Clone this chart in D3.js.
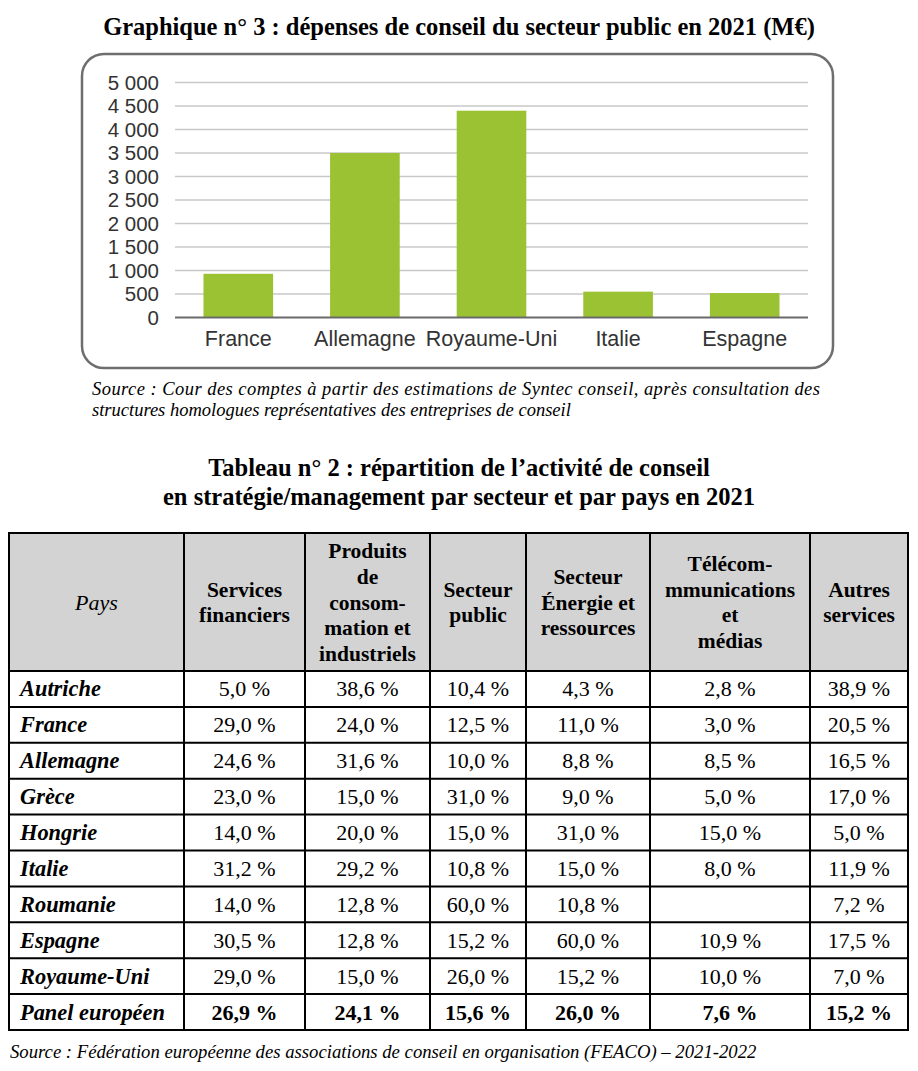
<!DOCTYPE html>
<html lang="fr">
<head>
<meta charset="UTF-8">
<title>Dépenses de conseil</title>
<style>
  body { margin: 0; background: #fff; }
  svg text { font-family: "Liberation Serif", "Times New Roman", serif; }
</style>
</head>
<body>
<script src="https://cdn.jsdelivr.net/npm/d3@7/dist/d3.min.js"></script>
<script>
// graphique n° 3
const pays = ['France', 'Allemagne', 'Royaume-Uni', 'Italie', 'Espagne'];
const depenses = [930, 3500, 4400, 550, 520];
const yTicks = [0, 500, 1000, 1500, 2000, 2500, 3000, 3500, 4000, 4500, 5000];

// tableau n° 2
const entetes = [
  ['Pays'],
  ['Services', 'financiers'],
  ['Produits', 'de', 'consom-', 'mation et', 'industriels'],
  ['Secteur', 'public'],
  ['Secteur', 'Énergie et', 'ressources'],
  ['Télécom-', 'mmunications', 'et', 'médias'],
  ['Autres', 'services']
];
const lignes = ['Autriche', 'France', 'Allemagne', 'Grèce', 'Hongrie', 'Italie',
  'Roumanie', 'Espagne', 'Royaume-Uni', 'Panel européen'];
const servFinanciers = [5.0, 29.0, 24.6, 23.0, 14.0, 31.2, 14.0, 30.5, 29.0, 26.9];
const produitsConso  = [38.6, 24.0, 31.6, 15.0, 20.0, 29.2, 12.8, 12.8, 15.0, 24.1];
const secteurPublic  = [10.4, 12.5, 10.0, 31.0, 15.0, 10.8, 60.0, 15.2, 26.0, 15.6];
const energie        = [4.3, 11.0, 8.8, 9.0, 31.0, 15.0, 10.8, 60.0, 15.2, 26.0];
const telecoms       = [2.8, 3.0, 8.5, 5.0, 15.0, 8.0, null, 10.9, 10.0, 7.6];
const autres         = [38.9, 20.5, 16.5, 17.0, 5.0, 11.9, 7.2, 17.5, 7.0, 15.2];
const colonnes = [servFinanciers, produitsConso, secteurPublic, energie, telecoms, autres];

const fr = d3.formatLocale({decimal: ',', thousands: '\u00a0', grouping: [3], currency: ['', '€']});
const fmtMil = fr.format(',');
const fmtPct = v => v == null ? '' : fr.format('.1f')(v) + '\u00a0%';

const W = 918, H = 1071;
const svg = d3.select('body').append('svg').attr('width', W).attr('height', H);

// titre
svg.append('text')
  .attr('x', 459).attr('y', 35)
  .attr('text-anchor', 'middle')
  .attr('font-weight', 'bold').attr('font-size', 24.5)
  .text('Graphique n° 3 : dépenses de conseil du secteur public en 2021 (M€)');

// cadre
svg.append('rect')
  .attr('x', 82).attr('y', 54).attr('width', 751).attr('height', 314)
  .attr('rx', 22)
  .attr('fill', '#fff').attr('stroke', '#6e6e6e').attr('stroke-width', 2.5);

const x = d3.scaleBand().domain(pays).range([175, 808]).paddingInner(0.45).paddingOuter(0.225);
const y = d3.scaleLinear().domain([0, 5000]).range([317.5, 82.5]);

const chart = svg.append('g');

// grille
chart.selectAll('line.grid').data(yTicks.filter(d => d > 0)).enter().append('line')
  .attr('class', 'grid')
  .attr('x1', 175).attr('x2', 808)
  .attr('y1', d => y(d)).attr('y2', d => y(d))
  .attr('stroke', '#c8c8c8').attr('stroke-width', 1.5);

// barres
chart.selectAll('rect.bar').data(depenses).enter().append('rect')
  .attr('class', 'bar')
  .attr('x', (d, i) => x(pays[i]))
  .attr('width', x.bandwidth())
  .attr('y', d => y(d))
  .attr('height', d => y(0) - y(d))
  .attr('fill', '#9bc232');

// axe
chart.append('line')
  .attr('x1', 175).attr('x2', 808)
  .attr('y1', y(0)).attr('y2', y(0))
  .attr('stroke', '#6a6a6a').attr('stroke-width', 2);

const yAxis = d3.axisLeft(y).tickValues(yTicks).tickFormat(fmtMil).tickSize(0).tickPadding(0);
chart.append('g').attr('transform', 'translate(159,0)').call(yAxis)
  .call(g => g.select('.domain').remove())
  .call(g => g.selectAll('text')
    .style('font-family', '"Liberation Sans", Arial, sans-serif')
    .attr('font-size', 20.5).attr('fill', '#333'));

const xAxis = d3.axisBottom(x).tickSize(0).tickPadding(13);
chart.append('g').attr('transform', `translate(0,${y(0)})`).call(xAxis)
  .call(g => g.select('.domain').remove())
  .call(g => g.selectAll('text')
    .style('font-family', '"Liberation Sans", Arial, sans-serif')
    .attr('font-size', 21.5).attr('fill', '#333'));

// source 1
svg.append('text')
  .attr('x', 92).attr('y', 395)
  .attr('font-style', 'italic').attr('font-size', 18.5)
  .attr('textLength', 728).attr('lengthAdjust', 'spacing')
  .text('Source : Cour des comptes à partir des estimations de Syntec conseil, après consultation des');
svg.append('text')
  .attr('x', 92).attr('y', 416)
  .attr('font-style', 'italic').attr('font-size', 18.5)
  .text('structures homologues représentatives des entreprises de conseil');

// titre tableau
['Tableau n° 2 : répartition de l’activité de conseil',
 'en stratégie/management par secteur et par pays en 2021'].forEach((t, i) => {
  svg.append('text')
    .attr('x', 459).attr('y', 476 + i * 29)
    .attr('text-anchor', 'middle')
    .attr('font-weight', 'bold').attr('font-size', 24.5)
    .text(t);
});

// tableau
const colX = [9, 184, 305, 430, 526, 650, 810, 908];
const tabTop = 533, headBottom = 671, tabBottom = 1030;
const row = d3.scaleBand().domain(lignes).range([headBottom, tabBottom]);
const tab = svg.append('g');

tab.append('rect')
  .attr('x', colX[0]).attr('y', tabTop)
  .attr('width', colX[7] - colX[0]).attr('height', headBottom - tabTop)
  .attr('fill', '#d3d3d3');

// en-têtes
entetes.forEach((lines, c) => {
  const cx = (colX[c] + colX[c + 1]) / 2;
  const lh = 25.7;
  const y0 = (tabTop + headBottom) / 2 - (lines.length - 1) * lh / 2 + 7.5;
  lines.forEach((t, k) => {
    tab.append('text')
      .attr('x', cx).attr('y', y0 + k * lh)
      .attr('text-anchor', 'middle')
      .attr('font-size', c === 0 ? 22 : 21.5)
      .attr('font-weight', c === 0 ? 'normal' : 'bold')
      .attr('font-style', c === 0 ? 'italic' : 'normal')
      .text(t);
  });
});

// lignes
lignes.forEach((p, r) => {
  const last = r === lignes.length - 1;
  const cy = row(p) + row.bandwidth() / 2 + 7.5;
  tab.append('text')
    .attr('x', 20).attr('y', cy)
    .attr('font-size', 22.4).attr('font-weight', 'bold').attr('font-style', 'italic')
    .text(p);
  colonnes.forEach((col, c) => {
    tab.append('text')
      .attr('x', (colX[c + 1] + colX[c + 2]) / 2).attr('y', cy)
      .attr('text-anchor', 'middle')
      .attr('font-size', 22)
      .attr('font-weight', last ? 'bold' : 'normal')
      .text(fmtPct(col[r]));
  });
});

// filets
const lineStyle = s => s.attr('stroke', '#000').attr('stroke-width', 2);
colX.forEach(cx => {
  tab.append('line').attr('x1', cx).attr('x2', cx).attr('y1', tabTop).attr('y2', tabBottom).call(lineStyle);
});
[tabTop, headBottom].concat(lignes.map(p => row(p) + row.bandwidth())).forEach(ly => {
  tab.append('line').attr('x1', colX[0] - 1).attr('x2', colX[7] + 1).attr('y1', ly).attr('y2', ly).call(lineStyle);
});

// source 2
svg.append('text')
  .attr('x', 10).attr('y', 1058)
  .attr('font-style', 'italic').attr('font-size', 18.7)
  .text('Source : Fédération européenne des associations de conseil en organisation (FEACO) – 2021-2022');
</script>
</body>
</html>
